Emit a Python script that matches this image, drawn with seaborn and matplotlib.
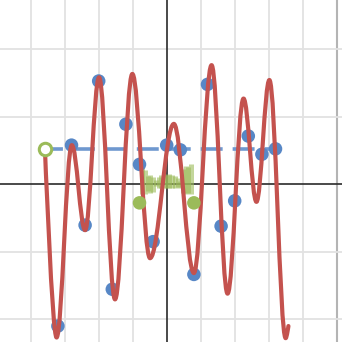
import numpy as np
import pandas as pd
import matplotlib
matplotlib.use("Agg")
import matplotlib.pyplot as plt
import seaborn as sns
from matplotlib.path import Path
from matplotlib.patches import PathPatch

# ---- data ----
pts_x = [-3.2, -2.8, -2.4, -2.0, -1.6, -1.2, -0.8, -0.4, 0.0, 0.4, 0.8, 1.2, 1.6, 2.0, 2.4, 2.8, 3.2]
pts_y = [-4.20, 1.16, -1.21, 3.06, -3.11, 1.78, 0.59, -1.70, 1.16, 1.02, -2.67, 2.96, -1.24, -0.49, 1.43, 0.89, 1.05]

# red curve: start, extrema, end
curve_x = [-3.58, -3.24, -2.79, -2.40, -1.99, -1.52, -1.01, -0.49, 0.21, 0.80, 1.32, 1.79, 2.26, 2.64, 3.02, 3.50, 3.58]
curve_y = [1.02, -4.54, 1.16, -1.36, 3.17, -3.41, 3.27, -2.19, 1.79, -2.63, 3.53, -3.24, 2.54, -0.52, 3.09, -4.56, -4.20]

# blue dashed level line
level_x = [-3.58, 3.2]
level_y = [1.04, 1.04]

# green open circle
open_x = [-3.58]
open_y = [1.04]

# green stems near the centre
stem_x = [-0.72, -0.64, -0.56, -0.48, -0.40, -0.32, -0.24, -0.16, -0.08, 0.00,
          0.08, 0.16, 0.24, 0.32, 0.40, 0.48, 0.56, 0.64, 0.72]
stem_lo = [-0.28, -0.30, -0.20, -0.25, -0.22, -0.05, -0.10, -0.12, -0.12, -0.10,
           -0.12, -0.12, -0.10, -0.08, -0.10, -0.25, -0.30, -0.25, -0.28]
stem_hi = [0.50, 0.42, 0.25, 0.28, 0.22, 0.12, 0.22, 0.28, 0.30, 0.28,
           0.30, 0.28, 0.25, 0.18, 0.10, 0.45, 0.55, 0.50, 0.60]

# green filled dots
gdot_x = [-0.80, 0.80]
gdot_y = [-0.55, -0.55]

RED = "#c4524e"
GREEN = "#9bbb59"

sns.set_theme(style="white")
plt.rcParams["lines.scale_dashes"] = False

fig = plt.figure(figsize=(3.42, 3.42), dpi=100)
ax = fig.add_axes([0, 0, 1, 1])
ax.set_xlim(-4.903, 5.156)
ax.set_ylim(-4.673, 5.461)

# grid
for gx in range(-4, 6):
    if gx == 0:
        continue
    ax.axvline(gx, color="#b4b4b4" if gx == 5 else "#e2e2e2", lw=1.5 if gx == 5 else 1.3, zorder=0)
for gy in [-4, -2, 2, 4]:
    ax.axhline(gy, color="#e2e2e2", lw=1.3, zorder=0)
ax.axhline(0, color="#2a2a2a", lw=1.2, zorder=1)
ax.axvline(0, color="#2a2a2a", lw=1.2, zorder=1)

# blue dashed line
lvl = pd.DataFrame({"x": level_x, "y": level_y})
sns.lineplot(data=lvl, x="x", y="y", ax=ax, color="#6f98cf", lw=2.6,
             linestyle=(2.9, (15.8, 7.2)), zorder=2, solid_capstyle="butt")

# green stems
ax.vlines(stem_x, stem_lo, stem_hi, colors=GREEN, alpha=0.6, lw=3.6, zorder=3)

# blue points
pts = pd.DataFrame({"x": pts_x, "y": pts_y})
sns.scatterplot(data=pts, x="x", y="y", ax=ax, color="#5787c6", s=95,
                edgecolor="none", zorder=4)

# red smooth curve through the read extrema (Bezier with flat tangents at extrema)
verts = [(curve_x[0], curve_y[0])]
codes = [Path.MOVETO]
n = len(curve_x)
for k in range(1, n):
    x0, y0 = curve_x[k - 1], curve_y[k - 1]
    x1, y1 = curve_x[k], curve_y[k]
    d = 0.364 * (x1 - x0)
    c1 = (x0, y0) if k == 1 else (x0 + d, y0)
    c2 = (x1, y1) if k == n - 1 else (x1 - d, y1)
    verts += [c1, c2, (x1, y1)]
    codes += [Path.CURVE4, Path.CURVE4, Path.CURVE4]
patch = PathPatch(Path(verts, codes), facecolor="none", edgecolor=RED, lw=3.0,
                  capstyle="round", joinstyle="round", zorder=5)
ax.add_patch(patch)

# green filled dots
gd = pd.DataFrame({"x": gdot_x, "y": gdot_y})
sns.scatterplot(data=gd, x="x", y="y", ax=ax, color=GREEN, s=95,
                edgecolor="none", zorder=6)

# green open circle
oc = pd.DataFrame({"x": open_x, "y": open_y})
sns.scatterplot(data=oc, x="x", y="y", ax=ax, color="white", s=80,
                edgecolor=GREEN, linewidth=2.2, zorder=7)

ax.set_xlabel("")
ax.set_ylabel("")
ax.set_xticks([])
ax.set_yticks([])
for s in ax.spines.values():
    s.set_visible(False)
if ax.get_legend() is not None:
    ax.get_legend().remove()

fig.savefig("out.png", dpi=100)
